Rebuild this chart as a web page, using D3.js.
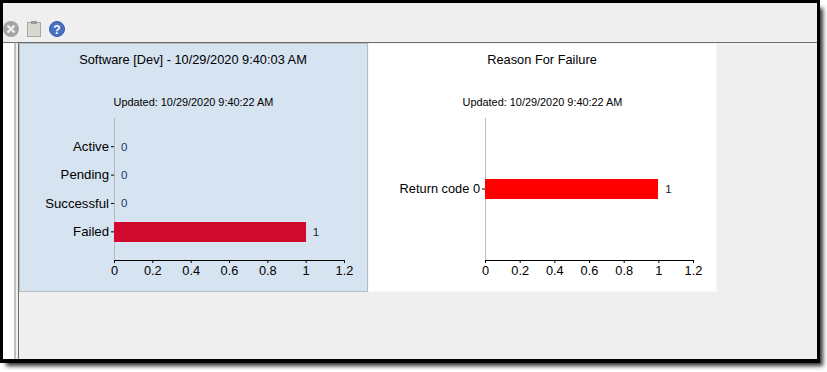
<!DOCTYPE html>
<html lang="en">
<head>
    <title>Software deployment status</title>
    <meta charset="utf-8">
    <script src="https://d3js.org/d3.v7.min.js"></script>
    <style>
        * { margin: 0; padding: 0; }
        body { width: 827px; height: 372px; background: #fff; overflow: hidden; }
        svg { display: block; font-family: "Liberation Sans", Arial, sans-serif; }
        .domain { stroke: #000; }
        .tick line { stroke: #000; }
        .bar { shape-rendering: crispEdges; }
    </style>
</head>
<body>
<div id="container"></div>
<script>
    const statusCats = ["Active", "Pending", "Successful", "Failed"];
    const statusVals = [0, 0, 0, 1];
    const reasonCats = ["Return code 0"];
    const reasonVals = [1];
    const xTicks = [0, 0.2, 0.4, 0.6, 0.8, 1, 1.2];
    const updatedText = "Updated: 10/29/2020 9:40:22 AM";

    const svg = d3.select("#container").append("svg")
        .attr("width", 827)
        .attr("height", 372);

    const defs = svg.append("defs");
    const blur = defs.append("filter").attr("id", "shadow")
        .attr("x", "-5%").attr("y", "-5%").attr("width", "110%").attr("height", "110%");
    blur.append("feGaussianBlur").attr("stdDeviation", 2);

    // window frame and drop shadow
    svg.append("rect").attr("x", 6).attr("y", 8).attr("width", 817).attr("height", 358)
        .attr("fill", "#333").attr("filter", "url(#shadow)");
    svg.append("rect").attr("x", 0).attr("y", 0).attr("width", 820).attr("height", 363).attr("fill", "#000");
    svg.append("rect").attr("x", 3).attr("y", 3).attr("width", 814).attr("height", 356).attr("fill", "#efefef");

    // left strip and splitter
    svg.append("rect").attr("x", 3).attr("y", 43).attr("width", 12).attr("height", 316).attr("fill", "#fff");
    svg.append("rect").attr("x", 3).attr("y", 42).attr("width", 814).attr("height", 1).attr("fill", "#6d6d6d");
    svg.append("rect").attr("x", 14.5).attr("y", 42).attr("width", 1).attr("height", 317).attr("fill", "#8a8a8a");
    svg.append("rect").attr("x", 18).attr("y", 42).attr("width", 1).attr("height", 317).attr("fill", "#6d6d6d");

    // toolbar icons
    const tb = svg.append("g");
    tb.append("circle").attr("cx", 11).attr("cy", 29).attr("r", 8).attr("fill", "#a4a4a4");
    tb.append("path").attr("d", "M7.5,25.5L14.5,32.5M14.5,25.5L7.5,32.5")
        .attr("stroke", "#eee").attr("stroke-width", 2.4);
    tb.append("rect").attr("x", 27.5).attr("y", 22.5).attr("width", 13).attr("height", 14)
        .attr("fill", "#d8d8d0").attr("stroke", "#a8a8a0");
    tb.append("rect").attr("x", 31).attr("y", 21).attr("width", 6).attr("height", 3).attr("fill", "#9a9a94");
    tb.append("circle").attr("cx", 57).attr("cy", 29).attr("r", 7.5).attr("fill", "#4a70c4").attr("stroke", "#3b5aa6");
    tb.append("text").attr("x", 57).attr("y", 33.5).attr("text-anchor", "middle")
        .attr("font-size", 12).attr("font-weight", "bold").attr("fill", "#fff").text("?");

    const drawPanel = (opt) => {
        const g = svg.append("g");

        g.append("rect")
            .attr("x", opt.x0 + 0.5).attr("y", 43.5)
            .attr("width", opt.w - 1).attr("height", 248)
            .attr("fill", opt.bg)
            .attr("stroke", opt.selected ? "#8f8f8f" : "none")
            .attr("stroke-dasharray", opt.selected ? "1,1" : null);

        const xScale = d3.scaleLinear().domain([0, 1.2]).range([opt.left, opt.right]);
        const yScale = d3.scaleBand().domain(opt.cats).range([opt.top, opt.bottom]).paddingInner(0.3).paddingOuter(opt.outer);

        g.append("text").attr("x", opt.titleX).attr("y", 64)
            .attr("text-anchor", "middle").attr("font-size", 12.8).attr("fill", "#000")
            .text(opt.title);
        g.append("text").attr("x", opt.updX).attr("y", 106)
            .attr("text-anchor", "middle").attr("font-size", 10.9).attr("fill", "#000")
            .text(updatedText);

        // axis line sits under the bars
        g.append("line")
            .attr("x1", opt.left + 0.5).attr("x2", opt.left + 0.5)
            .attr("y1", 118).attr("y2", 260)
            .attr("stroke", "#bbb");

        // bars
        g.selectAll("rect.bar").data(opt.vals).enter().append("rect")
            .attr("class", "bar")
            .attr("x", xScale(0))
            .attr("y", (d, i) => yScale(opt.cats[i]))
            .attr("width", d => xScale(d) - xScale(0))
            .attr("height", yScale.bandwidth())
            .attr("fill", opt.color);

        // value labels
        g.selectAll("text.val").data(opt.vals).enter().append("text")
            .attr("class", "val")
            .attr("x", d => xScale(d) + 7)
            .attr("y", (d, i) => yScale(opt.cats[i]) + yScale.bandwidth() / 2 + 4)
            .attr("font-size", 11.5).attr("fill", d => d === 0 ? "#1a3a66" : "#222")
            .text(d => d);

        // category axis
        const yAxis = g.append("g")
            .attr("transform", `translate(${opt.left}, 0)`)
            .call(d3.axisLeft(yScale).tickSize(3).tickPadding(2));
        yAxis.select(".domain").remove();
        yAxis.selectAll("text").attr("font-size", opt.catFont).attr("font-family", "inherit").attr("fill", "#000");

        // value axis
        const xAxis = g.append("g")
            .attr("transform", `translate(0, 260)`)
            .call(d3.axisBottom(xScale).tickValues(xTicks).tickFormat(d3.format("~g")).tickSize(3).tickSizeOuter(3).tickPadding(3));
        xAxis.selectAll("text").attr("font-size", 12.8).attr("font-family", "inherit").attr("fill", "#000");
    };

    drawPanel({
        x0: 19, w: 349, bg: "#d6e3f1", selected: true,
        left: 114, right: 344, top: 132.54, bottom: 246.04, outer: 0.15, catFont: 13.2,
        cats: statusCats, vals: statusVals, color: "#cf0a2c",
        title: "Software [Dev] - 10/29/2020 9:40:03 AM", titleX: 193, updX: 193.5
    });

    drawPanel({
        x0: 368, w: 349, bg: "#fff", selected: false,
        left: 485, right: 693, top: 118, bottom: 260, outer: 2.135, catFont: 12.8,
        cats: reasonCats, vals: reasonVals, color: "#ff0000",
        title: "Reason For Failure", titleX: 542, updX: 542.5
    });
</script>
</body>
</html>
